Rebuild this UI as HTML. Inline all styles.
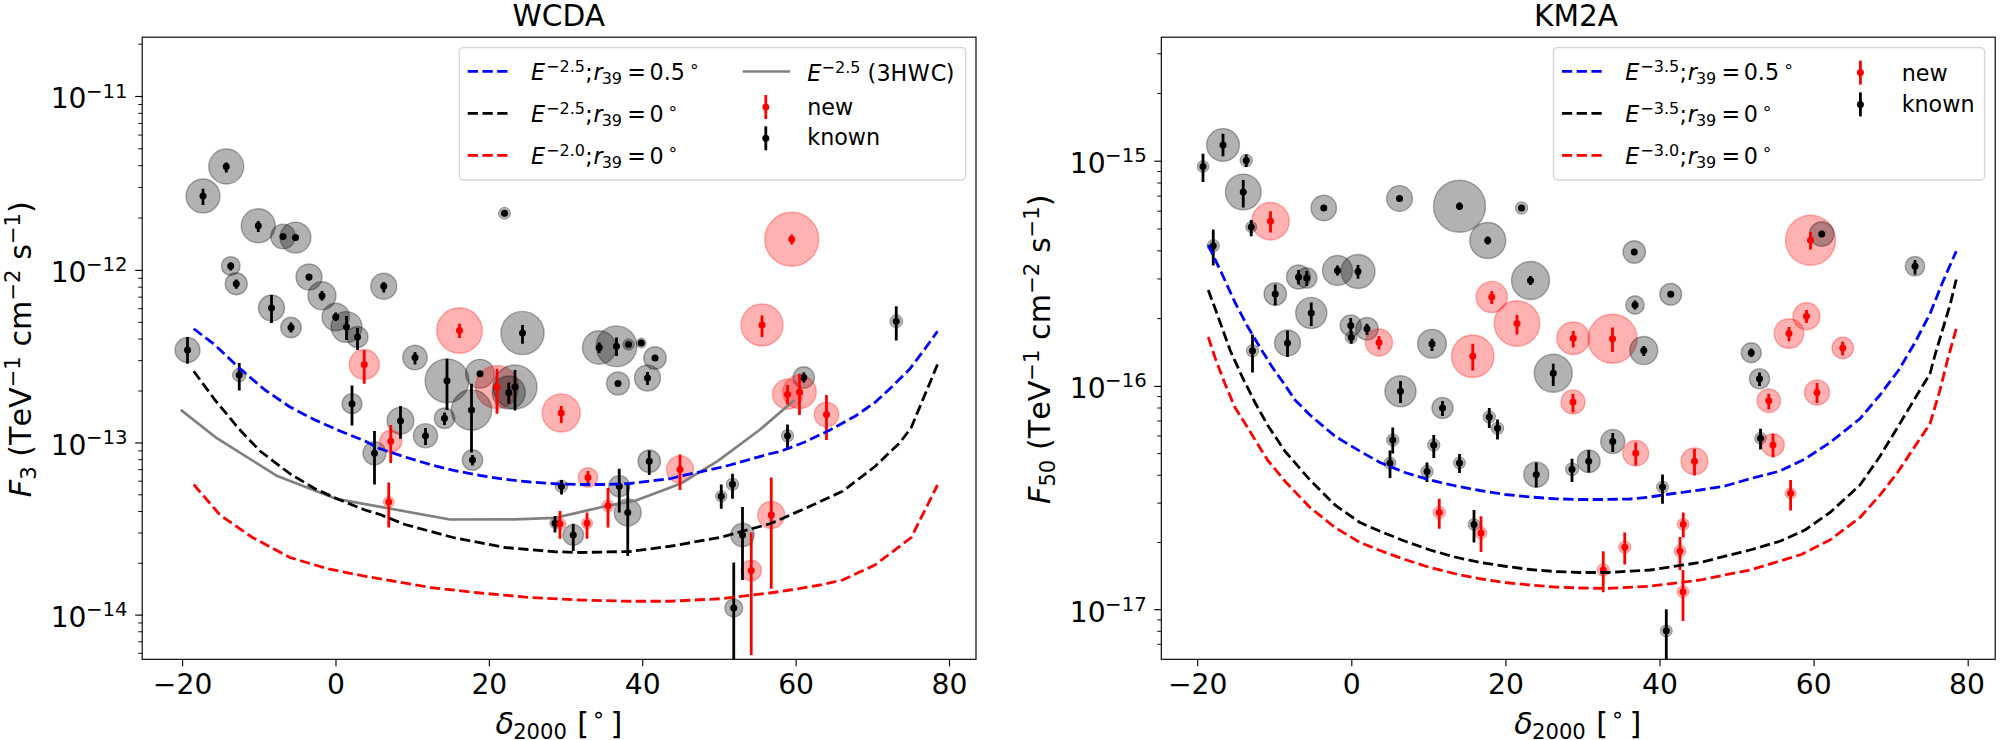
<!DOCTYPE html>
<html><head><meta charset="utf-8"><title>WCDA / KM2A</title>
<style>html,body{margin:0;padding:0;background:#fff}svg{display:block}text{font-family:"DejaVu Sans","Liberation Sans",sans-serif;fill:#000}text{font-kerning:none;font-variant-ligatures:none}.i{font-style:italic}</style></head><body>
<svg width="2000" height="740" viewBox="0 0 2000 740">
<rect x="0" y="0" width="2000" height="740" fill="#fff"/>
<g>
<defs>
<clipPath id="cl"><rect x="142.2" y="37.2" width="833.8" height="622.1"/></clipPath>
<clipPath id="cr"><rect x="1161.3" y="37.2" width="833.9" height="622.1"/></clipPath>
</defs>
<g clip-path="url(#cl)">
<circle cx="226.25" cy="166.5" r="17.5" fill="#000" fill-opacity="0.3" stroke="#000" stroke-opacity="0.3" stroke-width="1.4"/>
<circle cx="203" cy="196" r="17" fill="#000" fill-opacity="0.3" stroke="#000" stroke-opacity="0.3" stroke-width="1.4"/>
<circle cx="258.25" cy="225.75" r="17" fill="#000" fill-opacity="0.3" stroke="#000" stroke-opacity="0.3" stroke-width="1.4"/>
<circle cx="283" cy="236.5" r="12.25" fill="#000" fill-opacity="0.3" stroke="#000" stroke-opacity="0.3" stroke-width="1.4"/>
<circle cx="295.5" cy="237.5" r="15.4" fill="#000" fill-opacity="0.3" stroke="#000" stroke-opacity="0.3" stroke-width="1.4"/>
<circle cx="230.75" cy="266" r="9.4" fill="#000" fill-opacity="0.3" stroke="#000" stroke-opacity="0.3" stroke-width="1.4"/>
<circle cx="236.25" cy="283.75" r="11" fill="#000" fill-opacity="0.3" stroke="#000" stroke-opacity="0.3" stroke-width="1.4"/>
<circle cx="309" cy="277" r="13" fill="#000" fill-opacity="0.3" stroke="#000" stroke-opacity="0.3" stroke-width="1.4"/>
<circle cx="322" cy="295.75" r="14" fill="#000" fill-opacity="0.3" stroke="#000" stroke-opacity="0.3" stroke-width="1.4"/>
<circle cx="383.75" cy="286.25" r="13" fill="#000" fill-opacity="0.3" stroke="#000" stroke-opacity="0.3" stroke-width="1.4"/>
<circle cx="271.5" cy="308" r="13" fill="#000" fill-opacity="0.3" stroke="#000" stroke-opacity="0.3" stroke-width="1.4"/>
<circle cx="291" cy="327.5" r="10.3" fill="#000" fill-opacity="0.3" stroke="#000" stroke-opacity="0.3" stroke-width="1.4"/>
<circle cx="335.75" cy="317" r="13.75" fill="#000" fill-opacity="0.3" stroke="#000" stroke-opacity="0.3" stroke-width="1.4"/>
<circle cx="346.5" cy="327" r="15.4" fill="#000" fill-opacity="0.3" stroke="#000" stroke-opacity="0.3" stroke-width="1.4"/>
<circle cx="357.5" cy="337" r="10.5" fill="#000" fill-opacity="0.3" stroke="#000" stroke-opacity="0.3" stroke-width="1.4"/>
<circle cx="364.25" cy="364.5" r="15" fill="#f00" fill-opacity="0.3" stroke="#f00" stroke-opacity="0.3" stroke-width="1.4"/>
<circle cx="187.5" cy="350" r="12.5" fill="#000" fill-opacity="0.3" stroke="#000" stroke-opacity="0.3" stroke-width="1.4"/>
<circle cx="239.25" cy="375" r="6.9" fill="#000" fill-opacity="0.3" stroke="#000" stroke-opacity="0.3" stroke-width="1.0"/>
<circle cx="352" cy="403.75" r="10" fill="#000" fill-opacity="0.3" stroke="#000" stroke-opacity="0.3" stroke-width="1.4"/>
<circle cx="374.5" cy="453.25" r="11.5" fill="#000" fill-opacity="0.3" stroke="#000" stroke-opacity="0.3" stroke-width="1.4"/>
<circle cx="504.5" cy="213.25" r="6" fill="#000" fill-opacity="0.3" stroke="#000" stroke-opacity="0.3" stroke-width="1.0"/>
<circle cx="459.5" cy="330.5" r="22.75" fill="#f00" fill-opacity="0.3" stroke="#f00" stroke-opacity="0.3" stroke-width="1.4"/>
<circle cx="522.5" cy="333" r="21.6" fill="#000" fill-opacity="0.3" stroke="#000" stroke-opacity="0.3" stroke-width="1.4"/>
<circle cx="415" cy="357.5" r="12.25" fill="#000" fill-opacity="0.3" stroke="#000" stroke-opacity="0.3" stroke-width="1.4"/>
<circle cx="599.25" cy="347.5" r="16.8" fill="#000" fill-opacity="0.3" stroke="#000" stroke-opacity="0.3" stroke-width="1.4"/>
<circle cx="616.5" cy="346.25" r="20.4" fill="#000" fill-opacity="0.3" stroke="#000" stroke-opacity="0.3" stroke-width="1.4"/>
<circle cx="628.5" cy="344.5" r="5.75" fill="#000" fill-opacity="0.3" stroke="#000" stroke-opacity="0.3" stroke-width="1.0"/>
<circle cx="447" cy="380.75" r="21.9" fill="#000" fill-opacity="0.3" stroke="#000" stroke-opacity="0.3" stroke-width="1.4"/>
<circle cx="480" cy="373.75" r="14.4" fill="#000" fill-opacity="0.3" stroke="#000" stroke-opacity="0.3" stroke-width="1.4"/>
<circle cx="497" cy="387" r="21.5" fill="#f00" fill-opacity="0.3" stroke="#f00" stroke-opacity="0.3" stroke-width="1.4"/>
<circle cx="508.75" cy="392.5" r="16.5" fill="#000" fill-opacity="0.3" stroke="#000" stroke-opacity="0.3" stroke-width="1.4"/>
<circle cx="515" cy="387" r="22" fill="#000" fill-opacity="0.3" stroke="#000" stroke-opacity="0.3" stroke-width="1.4"/>
<circle cx="471.5" cy="410" r="20.2" fill="#000" fill-opacity="0.3" stroke="#000" stroke-opacity="0.3" stroke-width="1.4"/>
<circle cx="472.5" cy="460" r="10.25" fill="#000" fill-opacity="0.3" stroke="#000" stroke-opacity="0.3" stroke-width="1.4"/>
<circle cx="444.5" cy="418.25" r="10.25" fill="#000" fill-opacity="0.3" stroke="#000" stroke-opacity="0.3" stroke-width="1.4"/>
<circle cx="400.5" cy="420.75" r="13.4" fill="#000" fill-opacity="0.3" stroke="#000" stroke-opacity="0.3" stroke-width="1.4"/>
<circle cx="425.5" cy="435.75" r="12.1" fill="#000" fill-opacity="0.3" stroke="#000" stroke-opacity="0.3" stroke-width="1.4"/>
<circle cx="390.75" cy="441.25" r="11" fill="#f00" fill-opacity="0.3" stroke="#f00" stroke-opacity="0.3" stroke-width="1.4"/>
<circle cx="561.25" cy="413" r="19" fill="#f00" fill-opacity="0.3" stroke="#f00" stroke-opacity="0.3" stroke-width="1.4"/>
<circle cx="618" cy="383.5" r="11.5" fill="#000" fill-opacity="0.3" stroke="#000" stroke-opacity="0.3" stroke-width="1.4"/>
<circle cx="588" cy="477.5" r="9.75" fill="#f00" fill-opacity="0.3" stroke="#f00" stroke-opacity="0.3" stroke-width="1.4"/>
<circle cx="561.5" cy="486.25" r="6.25" fill="#000" fill-opacity="0.3" stroke="#000" stroke-opacity="0.3" stroke-width="1.0"/>
<circle cx="619.25" cy="486.25" r="10.6" fill="#000" fill-opacity="0.3" stroke="#000" stroke-opacity="0.3" stroke-width="1.4"/>
<circle cx="388.75" cy="502" r="5.5" fill="#f00" fill-opacity="0.3" stroke="#f00" stroke-opacity="0.3" stroke-width="1.0"/>
<circle cx="555" cy="523.25" r="5.25" fill="#000" fill-opacity="0.3" stroke="#000" stroke-opacity="0.3" stroke-width="1.0"/>
<circle cx="560" cy="523.75" r="6" fill="#f00" fill-opacity="0.3" stroke="#f00" stroke-opacity="0.3" stroke-width="1.0"/>
<circle cx="573.25" cy="535" r="10.4" fill="#000" fill-opacity="0.3" stroke="#000" stroke-opacity="0.3" stroke-width="1.4"/>
<circle cx="587" cy="523.25" r="5.6" fill="#f00" fill-opacity="0.3" stroke="#f00" stroke-opacity="0.3" stroke-width="1.0"/>
<circle cx="608" cy="505.75" r="6" fill="#f00" fill-opacity="0.3" stroke="#f00" stroke-opacity="0.3" stroke-width="1.0"/>
<circle cx="627.75" cy="512.5" r="13.5" fill="#000" fill-opacity="0.3" stroke="#000" stroke-opacity="0.3" stroke-width="1.4"/>
<circle cx="641.25" cy="343" r="5" fill="#000" fill-opacity="0.3" stroke="#000" stroke-opacity="0.3" stroke-width="1.0"/>
<circle cx="655" cy="358" r="11.25" fill="#000" fill-opacity="0.3" stroke="#000" stroke-opacity="0.3" stroke-width="1.4"/>
<circle cx="647.5" cy="378" r="13" fill="#000" fill-opacity="0.3" stroke="#000" stroke-opacity="0.3" stroke-width="1.4"/>
<circle cx="762" cy="325" r="21" fill="#f00" fill-opacity="0.3" stroke="#f00" stroke-opacity="0.3" stroke-width="1.4"/>
<circle cx="791.75" cy="239.25" r="27" fill="#f00" fill-opacity="0.3" stroke="#f00" stroke-opacity="0.3" stroke-width="1.4"/>
<circle cx="803.75" cy="377.5" r="10.7" fill="#000" fill-opacity="0.3" stroke="#000" stroke-opacity="0.3" stroke-width="1.4"/>
<circle cx="787.5" cy="394.25" r="15" fill="#f00" fill-opacity="0.3" stroke="#f00" stroke-opacity="0.3" stroke-width="1.4"/>
<circle cx="799.5" cy="392" r="16.75" fill="#f00" fill-opacity="0.3" stroke="#f00" stroke-opacity="0.3" stroke-width="1.4"/>
<circle cx="826.5" cy="414.5" r="12.25" fill="#f00" fill-opacity="0.3" stroke="#f00" stroke-opacity="0.3" stroke-width="1.4"/>
<circle cx="787.5" cy="435.75" r="6.25" fill="#000" fill-opacity="0.3" stroke="#000" stroke-opacity="0.3" stroke-width="1.0"/>
<circle cx="649.25" cy="461.25" r="11.25" fill="#000" fill-opacity="0.3" stroke="#000" stroke-opacity="0.3" stroke-width="1.4"/>
<circle cx="680" cy="469.5" r="13.5" fill="#f00" fill-opacity="0.3" stroke="#f00" stroke-opacity="0.3" stroke-width="1.4"/>
<circle cx="732.5" cy="484.25" r="6.25" fill="#000" fill-opacity="0.3" stroke="#000" stroke-opacity="0.3" stroke-width="1.0"/>
<circle cx="721.25" cy="496.25" r="5.75" fill="#000" fill-opacity="0.3" stroke="#000" stroke-opacity="0.3" stroke-width="1.0"/>
<circle cx="742.5" cy="535" r="11.75" fill="#000" fill-opacity="0.3" stroke="#000" stroke-opacity="0.3" stroke-width="1.4"/>
<circle cx="771.25" cy="515" r="13.5" fill="#f00" fill-opacity="0.3" stroke="#f00" stroke-opacity="0.3" stroke-width="1.4"/>
<circle cx="751.25" cy="570.5" r="10.25" fill="#f00" fill-opacity="0.3" stroke="#f00" stroke-opacity="0.3" stroke-width="1.4"/>
<circle cx="733.75" cy="608" r="9" fill="#000" fill-opacity="0.3" stroke="#000" stroke-opacity="0.3" stroke-width="1.4"/>
<circle cx="896.25" cy="321.25" r="6.5" fill="#000" fill-opacity="0.3" stroke="#000" stroke-opacity="0.3" stroke-width="1.0"/>
</g>
<polyline points="180.8,409.9 216.8,438.2 277.3,476.1 336,498.8 450,519.5 515,519.3 555,517.8 572.5,513.9 605,506.3 636.5,500.3 681,483.4 717.6,461.1 759.5,430 794.5,400" fill="none" stroke="#808080" stroke-width="2.7" stroke-linejoin="round"/>
<g clip-path="url(#cl)">
<line x1="226.25" y1="162.5" x2="226.25" y2="172.5" stroke="#000" stroke-width="2.8"/>
<circle cx="226.25" cy="166.5" r="3.5" fill="#000"/>
<line x1="203" y1="188.75" x2="203" y2="205" stroke="#000" stroke-width="2.8"/>
<circle cx="203" cy="196" r="3.5" fill="#000"/>
<line x1="258.25" y1="221" x2="258.25" y2="232" stroke="#000" stroke-width="2.8"/>
<circle cx="258.25" cy="225.75" r="3.5" fill="#000"/>
<circle cx="283" cy="236.5" r="3.5" fill="#000"/>
<circle cx="295.5" cy="237.5" r="3.5" fill="#000"/>
<line x1="230.75" y1="262.5" x2="230.75" y2="270.5" stroke="#000" stroke-width="2.8"/>
<circle cx="230.75" cy="266" r="3.5" fill="#000"/>
<line x1="236.25" y1="279.5" x2="236.25" y2="288.75" stroke="#000" stroke-width="2.8"/>
<circle cx="236.25" cy="283.75" r="3.5" fill="#000"/>
<line x1="309" y1="274" x2="309" y2="280.5" stroke="#000" stroke-width="2.8"/>
<circle cx="309" cy="277" r="3.5" fill="#000"/>
<line x1="322" y1="291" x2="322" y2="300.5" stroke="#000" stroke-width="2.8"/>
<circle cx="322" cy="295.75" r="3.5" fill="#000"/>
<line x1="383.75" y1="282" x2="383.75" y2="292.5" stroke="#000" stroke-width="2.8"/>
<circle cx="383.75" cy="286.25" r="3.5" fill="#000"/>
<line x1="271.5" y1="295" x2="271.5" y2="323" stroke="#000" stroke-width="2.8"/>
<circle cx="271.5" cy="308" r="3.5" fill="#000"/>
<line x1="291" y1="322.5" x2="291" y2="332.5" stroke="#000" stroke-width="2.8"/>
<circle cx="291" cy="327.5" r="3.5" fill="#000"/>
<line x1="335.75" y1="312.5" x2="335.75" y2="321" stroke="#000" stroke-width="2.8"/>
<circle cx="335.75" cy="317" r="3.5" fill="#000"/>
<line x1="346.5" y1="316" x2="346.5" y2="340" stroke="#000" stroke-width="2.8"/>
<circle cx="346.5" cy="327" r="3.5" fill="#000"/>
<line x1="357.5" y1="328" x2="357.5" y2="350" stroke="#000" stroke-width="2.8"/>
<circle cx="357.5" cy="337" r="3.5" fill="#000"/>
<line x1="364.25" y1="350" x2="364.25" y2="383.75" stroke="#f00" stroke-width="2.8"/>
<circle cx="364.25" cy="364.5" r="3.5" fill="#f00"/>
<line x1="187.5" y1="337" x2="187.5" y2="363.75" stroke="#000" stroke-width="2.8"/>
<circle cx="187.5" cy="350" r="3.5" fill="#000"/>
<line x1="239.25" y1="363" x2="239.25" y2="390.5" stroke="#000" stroke-width="2.8"/>
<circle cx="239.25" cy="375" r="3.5" fill="#000"/>
<line x1="352" y1="385.5" x2="352" y2="425.5" stroke="#000" stroke-width="2.8"/>
<circle cx="352" cy="403.75" r="3.5" fill="#000"/>
<line x1="374.5" y1="431" x2="374.5" y2="484.5" stroke="#000" stroke-width="2.8"/>
<circle cx="374.5" cy="453.25" r="3.5" fill="#000"/>
<circle cx="504.5" cy="213.25" r="3.5" fill="#000"/>
<line x1="459.5" y1="323.75" x2="459.5" y2="338" stroke="#f00" stroke-width="2.8"/>
<circle cx="459.5" cy="330.5" r="3.5" fill="#f00"/>
<line x1="522.5" y1="325" x2="522.5" y2="343.75" stroke="#000" stroke-width="2.8"/>
<circle cx="522.5" cy="333" r="3.5" fill="#000"/>
<line x1="415" y1="352" x2="415" y2="364.5" stroke="#000" stroke-width="2.8"/>
<circle cx="415" cy="357.5" r="3.5" fill="#000"/>
<line x1="599.25" y1="342.5" x2="599.25" y2="353" stroke="#000" stroke-width="2.8"/>
<circle cx="599.25" cy="347.5" r="3.5" fill="#000"/>
<line x1="616.5" y1="337.5" x2="616.5" y2="356" stroke="#000" stroke-width="2.8"/>
<circle cx="616.5" cy="346.25" r="3.5" fill="#000"/>
<circle cx="628.5" cy="344.5" r="3.5" fill="#000"/>
<line x1="447" y1="358.75" x2="447" y2="410" stroke="#000" stroke-width="2.8"/>
<circle cx="447" cy="380.75" r="3.5" fill="#000"/>
<circle cx="480" cy="373.75" r="3.5" fill="#000"/>
<line x1="497" y1="368.75" x2="497" y2="413.75" stroke="#f00" stroke-width="2.8"/>
<circle cx="497" cy="387" r="3.5" fill="#f00"/>
<line x1="508.75" y1="382.5" x2="508.75" y2="403.75" stroke="#000" stroke-width="2.8"/>
<circle cx="508.75" cy="392.5" r="3.5" fill="#000"/>
<line x1="515" y1="370" x2="515" y2="410.5" stroke="#000" stroke-width="2.8"/>
<circle cx="515" cy="387" r="3.5" fill="#000"/>
<line x1="471.5" y1="383.75" x2="471.5" y2="452.5" stroke="#000" stroke-width="2.8"/>
<circle cx="471.5" cy="410" r="3.5" fill="#000"/>
<line x1="472.5" y1="455" x2="472.5" y2="465.5" stroke="#000" stroke-width="2.8"/>
<circle cx="472.5" cy="460" r="3.5" fill="#000"/>
<line x1="444.5" y1="412.5" x2="444.5" y2="425" stroke="#000" stroke-width="2.8"/>
<circle cx="444.5" cy="418.25" r="3.5" fill="#000"/>
<line x1="400.5" y1="406" x2="400.5" y2="438.75" stroke="#000" stroke-width="2.8"/>
<circle cx="400.5" cy="420.75" r="3.5" fill="#000"/>
<line x1="425.5" y1="428" x2="425.5" y2="445" stroke="#000" stroke-width="2.8"/>
<circle cx="425.5" cy="435.75" r="3.5" fill="#000"/>
<line x1="390.75" y1="425" x2="390.75" y2="463" stroke="#f00" stroke-width="2.8"/>
<circle cx="390.75" cy="441.25" r="3.5" fill="#f00"/>
<line x1="561.25" y1="406" x2="561.25" y2="423" stroke="#f00" stroke-width="2.8"/>
<circle cx="561.25" cy="413" r="3.5" fill="#f00"/>
<circle cx="618" cy="383.5" r="3.5" fill="#000"/>
<line x1="588" y1="471" x2="588" y2="484" stroke="#f00" stroke-width="2.8"/>
<circle cx="588" cy="477.5" r="3.5" fill="#f00"/>
<line x1="561.5" y1="480" x2="561.5" y2="494.5" stroke="#000" stroke-width="2.8"/>
<circle cx="561.5" cy="486.25" r="3.5" fill="#000"/>
<line x1="619.25" y1="468.75" x2="619.25" y2="512.5" stroke="#000" stroke-width="2.8"/>
<circle cx="619.25" cy="486.25" r="3.5" fill="#000"/>
<line x1="388.75" y1="482.5" x2="388.75" y2="527.5" stroke="#f00" stroke-width="2.8"/>
<circle cx="388.75" cy="502" r="3.5" fill="#f00"/>
<line x1="555" y1="516" x2="555" y2="532.5" stroke="#000" stroke-width="2.8"/>
<circle cx="555" cy="523.25" r="3.5" fill="#000"/>
<line x1="560" y1="511" x2="560" y2="538.75" stroke="#f00" stroke-width="2.8"/>
<circle cx="560" cy="523.75" r="3.5" fill="#f00"/>
<line x1="573.25" y1="523.75" x2="573.25" y2="551" stroke="#000" stroke-width="2.8"/>
<circle cx="573.25" cy="535" r="3.5" fill="#000"/>
<line x1="587" y1="512.5" x2="587" y2="538.75" stroke="#f00" stroke-width="2.8"/>
<circle cx="587" cy="523.25" r="3.5" fill="#f00"/>
<line x1="608" y1="488" x2="608" y2="527.5" stroke="#f00" stroke-width="2.8"/>
<circle cx="608" cy="505.75" r="3.5" fill="#f00"/>
<line x1="627.75" y1="483.75" x2="627.75" y2="556" stroke="#000" stroke-width="2.8"/>
<circle cx="627.75" cy="512.5" r="3.5" fill="#000"/>
<circle cx="641.25" cy="343" r="3.5" fill="#000"/>
<circle cx="655" cy="358" r="3.5" fill="#000"/>
<line x1="647.5" y1="372" x2="647.5" y2="385" stroke="#000" stroke-width="2.8"/>
<circle cx="647.5" cy="378" r="3.5" fill="#000"/>
<line x1="762" y1="315.5" x2="762" y2="337" stroke="#f00" stroke-width="2.8"/>
<circle cx="762" cy="325" r="3.5" fill="#f00"/>
<line x1="791.75" y1="234.5" x2="791.75" y2="244.5" stroke="#f00" stroke-width="2.8"/>
<circle cx="791.75" cy="239.25" r="3.5" fill="#f00"/>
<line x1="803.75" y1="372.5" x2="803.75" y2="382.5" stroke="#000" stroke-width="2.8"/>
<circle cx="803.75" cy="377.5" r="3.5" fill="#000"/>
<line x1="787.5" y1="385" x2="787.5" y2="404.5" stroke="#f00" stroke-width="2.8"/>
<circle cx="787.5" cy="394.25" r="3.5" fill="#f00"/>
<line x1="799.5" y1="373.75" x2="799.5" y2="415" stroke="#f00" stroke-width="2.8"/>
<circle cx="799.5" cy="392" r="3.5" fill="#f00"/>
<line x1="826.5" y1="395" x2="826.5" y2="440" stroke="#f00" stroke-width="2.8"/>
<circle cx="826.5" cy="414.5" r="3.5" fill="#f00"/>
<line x1="787.5" y1="424.5" x2="787.5" y2="448.75" stroke="#000" stroke-width="2.8"/>
<circle cx="787.5" cy="435.75" r="3.5" fill="#000"/>
<line x1="649.25" y1="450.5" x2="649.25" y2="475" stroke="#000" stroke-width="2.8"/>
<circle cx="649.25" cy="461.25" r="3.5" fill="#000"/>
<line x1="680" y1="454.5" x2="680" y2="490" stroke="#f00" stroke-width="2.8"/>
<circle cx="680" cy="469.5" r="3.5" fill="#f00"/>
<line x1="732.5" y1="473.75" x2="732.5" y2="498.75" stroke="#000" stroke-width="2.8"/>
<circle cx="732.5" cy="484.25" r="3.5" fill="#000"/>
<line x1="721.25" y1="484.5" x2="721.25" y2="508.75" stroke="#000" stroke-width="2.8"/>
<circle cx="721.25" cy="496.25" r="3.5" fill="#000"/>
<line x1="742.5" y1="507" x2="742.5" y2="580" stroke="#000" stroke-width="2.8"/>
<circle cx="742.5" cy="535" r="3.5" fill="#000"/>
<line x1="771.25" y1="477.5" x2="771.25" y2="588.75" stroke="#f00" stroke-width="2.8"/>
<circle cx="771.25" cy="515" r="3.5" fill="#f00"/>
<line x1="751.25" y1="532.5" x2="751.25" y2="655" stroke="#f00" stroke-width="2.8"/>
<circle cx="751.25" cy="570.5" r="3.5" fill="#f00"/>
<line x1="733.75" y1="562.5" x2="733.75" y2="659" stroke="#000" stroke-width="2.8"/>
<circle cx="733.75" cy="608" r="3.5" fill="#000"/>
<line x1="896.25" y1="306.25" x2="896.25" y2="340.5" stroke="#000" stroke-width="2.8"/>
<circle cx="896.25" cy="321.25" r="3.5" fill="#000"/>
</g>
<polyline points="193.75,328.75 215,345 240,368.75 265,390 290,407 315,420 340,431 365,441 380,448.75 405,457 430,464.5 455,470.75 480,475.5 505,479.25 530,482 555,483.75 580,484.5 605,484.5 630,483.5 670,478.75 680,476.25 720,467.5 730,465 770,453.75 780,451.5 805,442 830,430 855,416.25 875,402.5 892.5,386.25 910,368.75 925,348.75 937.5,331.25" fill="none" stroke="#00f" stroke-width="2.8" stroke-linejoin="round" stroke-dasharray="10.3 4.45"/>
<polyline points="193.75,371.25 215,400 240,430 260,451 290,473.75 315,488.75 340,500 365,510 380,514.5 405,524.5 455,538 505,547.5 555,551.75 580,552.5 630,551.5 670,546.25 720,537.5 770,523.75 780,519.5 810,506.25 842.5,491.25 875,466.5 900,442.5 911.25,427.5 937.5,364.5" fill="none" stroke="#000" stroke-width="2.8" stroke-linejoin="round" stroke-dasharray="10.3 4.45"/>
<polyline points="193.75,484.5 220,515 252.5,537.5 290,557.5 327.5,568.75 365,576.25 390,580.5 430,587.5 480,593 530,597.5 580,600 630,601.25 670,601.25 720,598.75 770,593 790,590 820,585 842.5,580 875,565 911.25,537.5 937.5,485" fill="none" stroke="#f00" stroke-width="2.8" stroke-linejoin="round" stroke-dasharray="10.3 4.45"/>
<g clip-path="url(#cr)">
<circle cx="1223" cy="145" r="16.4" fill="#000" fill-opacity="0.3" stroke="#000" stroke-opacity="0.3" stroke-width="1.4"/>
<circle cx="1203" cy="166.5" r="5.9" fill="#000" fill-opacity="0.3" stroke="#000" stroke-opacity="0.3" stroke-width="1.0"/>
<circle cx="1246.25" cy="160.5" r="6.25" fill="#000" fill-opacity="0.3" stroke="#000" stroke-opacity="0.3" stroke-width="1.0"/>
<circle cx="1243.25" cy="192" r="17.9" fill="#000" fill-opacity="0.3" stroke="#000" stroke-opacity="0.3" stroke-width="1.4"/>
<circle cx="1270.5" cy="221.25" r="18.75" fill="#f00" fill-opacity="0.3" stroke="#f00" stroke-opacity="0.3" stroke-width="1.4"/>
<circle cx="1251.25" cy="227" r="5.6" fill="#000" fill-opacity="0.3" stroke="#000" stroke-opacity="0.3" stroke-width="1.0"/>
<circle cx="1213.25" cy="245.75" r="6.25" fill="#000" fill-opacity="0.3" stroke="#000" stroke-opacity="0.3" stroke-width="1.0"/>
<circle cx="1323.75" cy="208" r="12.75" fill="#000" fill-opacity="0.3" stroke="#000" stroke-opacity="0.3" stroke-width="1.4"/>
<circle cx="1399.5" cy="198.5" r="12.9" fill="#000" fill-opacity="0.3" stroke="#000" stroke-opacity="0.3" stroke-width="1.4"/>
<circle cx="1298.5" cy="277" r="12" fill="#000" fill-opacity="0.3" stroke="#000" stroke-opacity="0.3" stroke-width="1.4"/>
<circle cx="1306.75" cy="278" r="10.2" fill="#000" fill-opacity="0.3" stroke="#000" stroke-opacity="0.3" stroke-width="1.4"/>
<circle cx="1337.5" cy="270.5" r="15" fill="#000" fill-opacity="0.3" stroke="#000" stroke-opacity="0.3" stroke-width="1.4"/>
<circle cx="1358" cy="271.5" r="17" fill="#000" fill-opacity="0.3" stroke="#000" stroke-opacity="0.3" stroke-width="1.4"/>
<circle cx="1275.25" cy="294" r="11.25" fill="#000" fill-opacity="0.3" stroke="#000" stroke-opacity="0.3" stroke-width="1.4"/>
<circle cx="1311.25" cy="313" r="15.6" fill="#000" fill-opacity="0.3" stroke="#000" stroke-opacity="0.3" stroke-width="1.4"/>
<circle cx="1287.5" cy="343" r="13" fill="#000" fill-opacity="0.3" stroke="#000" stroke-opacity="0.3" stroke-width="1.4"/>
<circle cx="1252.5" cy="350.75" r="6.25" fill="#000" fill-opacity="0.3" stroke="#000" stroke-opacity="0.3" stroke-width="1.0"/>
<circle cx="1350.75" cy="325.5" r="10.6" fill="#000" fill-opacity="0.3" stroke="#000" stroke-opacity="0.3" stroke-width="1.4"/>
<circle cx="1351.25" cy="337.5" r="6" fill="#000" fill-opacity="0.3" stroke="#000" stroke-opacity="0.3" stroke-width="1.0"/>
<circle cx="1367" cy="328.75" r="11.25" fill="#000" fill-opacity="0.3" stroke="#000" stroke-opacity="0.3" stroke-width="1.4"/>
<circle cx="1379" cy="342.5" r="13.5" fill="#f00" fill-opacity="0.3" stroke="#f00" stroke-opacity="0.3" stroke-width="1.4"/>
<circle cx="1400.5" cy="391.25" r="15.6" fill="#000" fill-opacity="0.3" stroke="#000" stroke-opacity="0.3" stroke-width="1.4"/>
<circle cx="1392.75" cy="440" r="6.25" fill="#000" fill-opacity="0.3" stroke="#000" stroke-opacity="0.3" stroke-width="1.0"/>
<circle cx="1390" cy="463" r="6" fill="#000" fill-opacity="0.3" stroke="#000" stroke-opacity="0.3" stroke-width="1.0"/>
<circle cx="1459.5" cy="206.25" r="26" fill="#000" fill-opacity="0.3" stroke="#000" stroke-opacity="0.3" stroke-width="1.4"/>
<circle cx="1521.5" cy="208" r="6.25" fill="#000" fill-opacity="0.3" stroke="#000" stroke-opacity="0.3" stroke-width="1.0"/>
<circle cx="1487.75" cy="240.5" r="18" fill="#000" fill-opacity="0.3" stroke="#000" stroke-opacity="0.3" stroke-width="1.4"/>
<circle cx="1530.5" cy="280.5" r="19" fill="#000" fill-opacity="0.3" stroke="#000" stroke-opacity="0.3" stroke-width="1.4"/>
<circle cx="1491.75" cy="297" r="15.6" fill="#f00" fill-opacity="0.3" stroke="#f00" stroke-opacity="0.3" stroke-width="1.4"/>
<circle cx="1517" cy="323.5" r="22.75" fill="#f00" fill-opacity="0.3" stroke="#f00" stroke-opacity="0.3" stroke-width="1.4"/>
<circle cx="1432" cy="343.75" r="14.4" fill="#000" fill-opacity="0.3" stroke="#000" stroke-opacity="0.3" stroke-width="1.4"/>
<circle cx="1472.75" cy="356.25" r="21.25" fill="#f00" fill-opacity="0.3" stroke="#f00" stroke-opacity="0.3" stroke-width="1.4"/>
<circle cx="1573.25" cy="338.25" r="16.4" fill="#f00" fill-opacity="0.3" stroke="#f00" stroke-opacity="0.3" stroke-width="1.4"/>
<circle cx="1612.5" cy="338.75" r="24.5" fill="#f00" fill-opacity="0.3" stroke="#f00" stroke-opacity="0.3" stroke-width="1.4"/>
<circle cx="1553.25" cy="373.25" r="19" fill="#000" fill-opacity="0.3" stroke="#000" stroke-opacity="0.3" stroke-width="1.4"/>
<circle cx="1573" cy="402" r="12" fill="#f00" fill-opacity="0.3" stroke="#f00" stroke-opacity="0.3" stroke-width="1.4"/>
<circle cx="1442.5" cy="408" r="10.6" fill="#000" fill-opacity="0.3" stroke="#000" stroke-opacity="0.3" stroke-width="1.4"/>
<circle cx="1489.25" cy="417" r="6.25" fill="#000" fill-opacity="0.3" stroke="#000" stroke-opacity="0.3" stroke-width="1.0"/>
<circle cx="1497.5" cy="428.25" r="6.25" fill="#000" fill-opacity="0.3" stroke="#000" stroke-opacity="0.3" stroke-width="1.0"/>
<circle cx="1433.75" cy="445" r="6.25" fill="#000" fill-opacity="0.3" stroke="#000" stroke-opacity="0.3" stroke-width="1.0"/>
<circle cx="1459.5" cy="463" r="6" fill="#000" fill-opacity="0.3" stroke="#000" stroke-opacity="0.3" stroke-width="1.0"/>
<circle cx="1427" cy="471.5" r="6.25" fill="#000" fill-opacity="0.3" stroke="#000" stroke-opacity="0.3" stroke-width="1.0"/>
<circle cx="1612.75" cy="441.5" r="12" fill="#000" fill-opacity="0.3" stroke="#000" stroke-opacity="0.3" stroke-width="1.4"/>
<circle cx="1588.75" cy="461.25" r="11.4" fill="#000" fill-opacity="0.3" stroke="#000" stroke-opacity="0.3" stroke-width="1.4"/>
<circle cx="1572" cy="469.25" r="6.6" fill="#000" fill-opacity="0.3" stroke="#000" stroke-opacity="0.3" stroke-width="1.0"/>
<circle cx="1536.25" cy="474.5" r="12.6" fill="#000" fill-opacity="0.3" stroke="#000" stroke-opacity="0.3" stroke-width="1.4"/>
<circle cx="1439.25" cy="512.5" r="6.25" fill="#f00" fill-opacity="0.3" stroke="#f00" stroke-opacity="0.3" stroke-width="1.0"/>
<circle cx="1474" cy="524.5" r="6" fill="#000" fill-opacity="0.3" stroke="#000" stroke-opacity="0.3" stroke-width="1.0"/>
<circle cx="1481" cy="533" r="6" fill="#f00" fill-opacity="0.3" stroke="#f00" stroke-opacity="0.3" stroke-width="1.0"/>
<circle cx="1603.25" cy="570" r="6.25" fill="#f00" fill-opacity="0.3" stroke="#f00" stroke-opacity="0.3" stroke-width="1.0"/>
<circle cx="1624.75" cy="547.25" r="6.25" fill="#f00" fill-opacity="0.3" stroke="#f00" stroke-opacity="0.3" stroke-width="1.0"/>
<circle cx="1634.25" cy="252" r="11.25" fill="#000" fill-opacity="0.3" stroke="#000" stroke-opacity="0.3" stroke-width="1.4"/>
<circle cx="1670.75" cy="294.25" r="10.9" fill="#000" fill-opacity="0.3" stroke="#000" stroke-opacity="0.3" stroke-width="1.4"/>
<circle cx="1635" cy="305" r="9.25" fill="#000" fill-opacity="0.3" stroke="#000" stroke-opacity="0.3" stroke-width="1.4"/>
<circle cx="1810.5" cy="240.25" r="25" fill="#f00" fill-opacity="0.3" stroke="#f00" stroke-opacity="0.3" stroke-width="1.4"/>
<circle cx="1821.75" cy="234" r="12.25" fill="#000" fill-opacity="0.3" stroke="#000" stroke-opacity="0.3" stroke-width="1.4"/>
<circle cx="1806.5" cy="316.25" r="13.5" fill="#f00" fill-opacity="0.3" stroke="#f00" stroke-opacity="0.3" stroke-width="1.4"/>
<circle cx="1789" cy="333.5" r="14.75" fill="#f00" fill-opacity="0.3" stroke="#f00" stroke-opacity="0.3" stroke-width="1.4"/>
<circle cx="1842.75" cy="348" r="10.75" fill="#f00" fill-opacity="0.3" stroke="#f00" stroke-opacity="0.3" stroke-width="1.4"/>
<circle cx="1643.75" cy="350.5" r="14" fill="#000" fill-opacity="0.3" stroke="#000" stroke-opacity="0.3" stroke-width="1.4"/>
<circle cx="1751.25" cy="352.75" r="10" fill="#000" fill-opacity="0.3" stroke="#000" stroke-opacity="0.3" stroke-width="1.4"/>
<circle cx="1759.5" cy="378.75" r="10.1" fill="#000" fill-opacity="0.3" stroke="#000" stroke-opacity="0.3" stroke-width="1.4"/>
<circle cx="1768.75" cy="400.75" r="11.75" fill="#f00" fill-opacity="0.3" stroke="#f00" stroke-opacity="0.3" stroke-width="1.4"/>
<circle cx="1817" cy="392.5" r="12.5" fill="#f00" fill-opacity="0.3" stroke="#f00" stroke-opacity="0.3" stroke-width="1.4"/>
<circle cx="1635.75" cy="453.25" r="12.9" fill="#f00" fill-opacity="0.3" stroke="#f00" stroke-opacity="0.3" stroke-width="1.4"/>
<circle cx="1694.5" cy="461.25" r="13.4" fill="#f00" fill-opacity="0.3" stroke="#f00" stroke-opacity="0.3" stroke-width="1.4"/>
<circle cx="1760.5" cy="438.25" r="5.9" fill="#000" fill-opacity="0.3" stroke="#000" stroke-opacity="0.3" stroke-width="1.0"/>
<circle cx="1773" cy="445" r="11.25" fill="#f00" fill-opacity="0.3" stroke="#f00" stroke-opacity="0.3" stroke-width="1.4"/>
<circle cx="1662.5" cy="487" r="6" fill="#000" fill-opacity="0.3" stroke="#000" stroke-opacity="0.3" stroke-width="1.0"/>
<circle cx="1790.6" cy="493.25" r="5.6" fill="#f00" fill-opacity="0.3" stroke="#f00" stroke-opacity="0.3" stroke-width="1.0"/>
<circle cx="1683.25" cy="524.25" r="6" fill="#f00" fill-opacity="0.3" stroke="#f00" stroke-opacity="0.3" stroke-width="1.0"/>
<circle cx="1680" cy="551.25" r="6" fill="#f00" fill-opacity="0.3" stroke="#f00" stroke-opacity="0.3" stroke-width="1.0"/>
<circle cx="1683" cy="591.75" r="6" fill="#f00" fill-opacity="0.3" stroke="#f00" stroke-opacity="0.3" stroke-width="1.0"/>
<circle cx="1666.3" cy="630.8" r="6" fill="#000" fill-opacity="0.3" stroke="#000" stroke-opacity="0.3" stroke-width="1.0"/>
<circle cx="1915" cy="266.25" r="9.75" fill="#000" fill-opacity="0.3" stroke="#000" stroke-opacity="0.3" stroke-width="1.4"/>
</g>
<g clip-path="url(#cr)">
<line x1="1223" y1="133.75" x2="1223" y2="156.25" stroke="#000" stroke-width="2.8"/>
<circle cx="1223" cy="145" r="3.5" fill="#000"/>
<line x1="1203" y1="153.75" x2="1203" y2="182" stroke="#000" stroke-width="2.8"/>
<circle cx="1203" cy="166.5" r="3.5" fill="#000"/>
<line x1="1246.25" y1="154.5" x2="1246.25" y2="167" stroke="#000" stroke-width="2.8"/>
<circle cx="1246.25" cy="160.5" r="3.5" fill="#000"/>
<line x1="1243.25" y1="180" x2="1243.25" y2="207.5" stroke="#000" stroke-width="2.8"/>
<circle cx="1243.25" cy="192" r="3.5" fill="#000"/>
<line x1="1270.5" y1="211.25" x2="1270.5" y2="232.5" stroke="#f00" stroke-width="2.8"/>
<circle cx="1270.5" cy="221.25" r="3.5" fill="#f00"/>
<line x1="1251.25" y1="220" x2="1251.25" y2="236.25" stroke="#000" stroke-width="2.8"/>
<circle cx="1251.25" cy="227" r="3.5" fill="#000"/>
<line x1="1213.25" y1="229.5" x2="1213.25" y2="265.5" stroke="#000" stroke-width="2.8"/>
<circle cx="1213.25" cy="245.75" r="3.5" fill="#000"/>
<circle cx="1323.75" cy="208" r="3.5" fill="#000"/>
<circle cx="1399.5" cy="198.5" r="3.5" fill="#000"/>
<line x1="1298.5" y1="270" x2="1298.5" y2="284.5" stroke="#000" stroke-width="2.8"/>
<circle cx="1298.5" cy="277" r="3.5" fill="#000"/>
<line x1="1306.75" y1="271" x2="1306.75" y2="286" stroke="#000" stroke-width="2.8"/>
<circle cx="1306.75" cy="278" r="3.5" fill="#000"/>
<line x1="1337.5" y1="265.5" x2="1337.5" y2="275.5" stroke="#000" stroke-width="2.8"/>
<circle cx="1337.5" cy="270.5" r="3.5" fill="#000"/>
<line x1="1358" y1="265" x2="1358" y2="278.75" stroke="#000" stroke-width="2.8"/>
<circle cx="1358" cy="271.5" r="3.5" fill="#000"/>
<line x1="1275.25" y1="284.5" x2="1275.25" y2="305.5" stroke="#000" stroke-width="2.8"/>
<circle cx="1275.25" cy="294" r="3.5" fill="#000"/>
<line x1="1311.25" y1="302.5" x2="1311.25" y2="326" stroke="#000" stroke-width="2.8"/>
<circle cx="1311.25" cy="313" r="3.5" fill="#000"/>
<line x1="1287.5" y1="330.5" x2="1287.5" y2="357" stroke="#000" stroke-width="2.8"/>
<circle cx="1287.5" cy="343" r="3.5" fill="#000"/>
<line x1="1252.5" y1="334.5" x2="1252.5" y2="372.5" stroke="#000" stroke-width="2.8"/>
<circle cx="1252.5" cy="350.75" r="3.5" fill="#000"/>
<line x1="1350.75" y1="318" x2="1350.75" y2="333" stroke="#000" stroke-width="2.8"/>
<circle cx="1350.75" cy="325.5" r="3.5" fill="#000"/>
<line x1="1351.25" y1="331" x2="1351.25" y2="343.75" stroke="#000" stroke-width="2.8"/>
<circle cx="1351.25" cy="337.5" r="3.5" fill="#000"/>
<line x1="1367" y1="323.75" x2="1367" y2="335" stroke="#000" stroke-width="2.8"/>
<circle cx="1367" cy="328.75" r="3.5" fill="#000"/>
<line x1="1379" y1="336" x2="1379" y2="349.5" stroke="#f00" stroke-width="2.8"/>
<circle cx="1379" cy="342.5" r="3.5" fill="#f00"/>
<line x1="1400.5" y1="381" x2="1400.5" y2="403" stroke="#000" stroke-width="2.8"/>
<circle cx="1400.5" cy="391.25" r="3.5" fill="#000"/>
<line x1="1392.75" y1="427.5" x2="1392.75" y2="453.5" stroke="#000" stroke-width="2.8"/>
<circle cx="1392.75" cy="440" r="3.5" fill="#000"/>
<line x1="1390" y1="450.5" x2="1390" y2="478" stroke="#000" stroke-width="2.8"/>
<circle cx="1390" cy="463" r="3.5" fill="#000"/>
<line x1="1459.5" y1="202.5" x2="1459.5" y2="210" stroke="#000" stroke-width="2.8"/>
<circle cx="1459.5" cy="206.25" r="3.5" fill="#000"/>
<circle cx="1521.5" cy="208" r="3.5" fill="#000"/>
<line x1="1487.75" y1="236.5" x2="1487.75" y2="244.5" stroke="#000" stroke-width="2.8"/>
<circle cx="1487.75" cy="240.5" r="3.5" fill="#000"/>
<line x1="1530.5" y1="276" x2="1530.5" y2="285" stroke="#000" stroke-width="2.8"/>
<circle cx="1530.5" cy="280.5" r="3.5" fill="#000"/>
<line x1="1491.75" y1="291" x2="1491.75" y2="304" stroke="#f00" stroke-width="2.8"/>
<circle cx="1491.75" cy="297" r="3.5" fill="#f00"/>
<line x1="1517" y1="315" x2="1517" y2="334.5" stroke="#f00" stroke-width="2.8"/>
<circle cx="1517" cy="323.5" r="3.5" fill="#f00"/>
<line x1="1432" y1="338.75" x2="1432" y2="351" stroke="#000" stroke-width="2.8"/>
<circle cx="1432" cy="343.75" r="3.5" fill="#000"/>
<line x1="1472.75" y1="343.75" x2="1472.75" y2="370.5" stroke="#f00" stroke-width="2.8"/>
<circle cx="1472.75" cy="356.25" r="3.5" fill="#f00"/>
<line x1="1573.25" y1="331" x2="1573.25" y2="347.5" stroke="#f00" stroke-width="2.8"/>
<circle cx="1573.25" cy="338.25" r="3.5" fill="#f00"/>
<line x1="1612.5" y1="327.5" x2="1612.5" y2="352" stroke="#f00" stroke-width="2.8"/>
<circle cx="1612.5" cy="338.75" r="3.5" fill="#f00"/>
<line x1="1553.25" y1="363.75" x2="1553.25" y2="386" stroke="#000" stroke-width="2.8"/>
<circle cx="1553.25" cy="373.25" r="3.5" fill="#000"/>
<line x1="1573" y1="393.75" x2="1573" y2="412.5" stroke="#f00" stroke-width="2.8"/>
<circle cx="1573" cy="402" r="3.5" fill="#f00"/>
<line x1="1442.5" y1="401" x2="1442.5" y2="416" stroke="#000" stroke-width="2.8"/>
<circle cx="1442.5" cy="408" r="3.5" fill="#000"/>
<line x1="1489.25" y1="408" x2="1489.25" y2="428" stroke="#000" stroke-width="2.8"/>
<circle cx="1489.25" cy="417" r="3.5" fill="#000"/>
<line x1="1497.5" y1="419.5" x2="1497.5" y2="439.5" stroke="#000" stroke-width="2.8"/>
<circle cx="1497.5" cy="428.25" r="3.5" fill="#000"/>
<line x1="1433.75" y1="435" x2="1433.75" y2="458" stroke="#000" stroke-width="2.8"/>
<circle cx="1433.75" cy="445" r="3.5" fill="#000"/>
<line x1="1459.5" y1="454" x2="1459.5" y2="473" stroke="#000" stroke-width="2.8"/>
<circle cx="1459.5" cy="463" r="3.5" fill="#000"/>
<line x1="1427" y1="462.5" x2="1427" y2="482" stroke="#000" stroke-width="2.8"/>
<circle cx="1427" cy="471.5" r="3.5" fill="#000"/>
<line x1="1612.75" y1="433" x2="1612.75" y2="452" stroke="#000" stroke-width="2.8"/>
<circle cx="1612.75" cy="441.5" r="3.5" fill="#000"/>
<line x1="1588.75" y1="450.25" x2="1588.75" y2="472.5" stroke="#000" stroke-width="2.8"/>
<circle cx="1588.75" cy="461.25" r="3.5" fill="#000"/>
<line x1="1572" y1="458.75" x2="1572" y2="482" stroke="#000" stroke-width="2.8"/>
<circle cx="1572" cy="469.25" r="3.5" fill="#000"/>
<line x1="1536.25" y1="462.5" x2="1536.25" y2="487.5" stroke="#000" stroke-width="2.8"/>
<circle cx="1536.25" cy="474.5" r="3.5" fill="#000"/>
<line x1="1439.25" y1="498.75" x2="1439.25" y2="528.75" stroke="#f00" stroke-width="2.8"/>
<circle cx="1439.25" cy="512.5" r="3.5" fill="#f00"/>
<line x1="1474" y1="510" x2="1474" y2="542.5" stroke="#000" stroke-width="2.8"/>
<circle cx="1474" cy="524.5" r="3.5" fill="#000"/>
<line x1="1481" y1="516.25" x2="1481" y2="552" stroke="#f00" stroke-width="2.8"/>
<circle cx="1481" cy="533" r="3.5" fill="#f00"/>
<line x1="1603.25" y1="551.25" x2="1603.25" y2="592.25" stroke="#f00" stroke-width="2.8"/>
<circle cx="1603.25" cy="570" r="3.5" fill="#f00"/>
<line x1="1624.75" y1="532.5" x2="1624.75" y2="564.5" stroke="#f00" stroke-width="2.8"/>
<circle cx="1624.75" cy="547.25" r="3.5" fill="#f00"/>
<circle cx="1634.25" cy="252" r="3.5" fill="#000"/>
<circle cx="1670.75" cy="294.25" r="3.5" fill="#000"/>
<line x1="1635" y1="300.5" x2="1635" y2="309.5" stroke="#000" stroke-width="2.8"/>
<circle cx="1635" cy="305" r="3.5" fill="#000"/>
<line x1="1810.5" y1="232" x2="1810.5" y2="249.5" stroke="#f00" stroke-width="2.8"/>
<circle cx="1810.5" cy="240.25" r="3.5" fill="#f00"/>
<circle cx="1821.75" cy="234" r="3.5" fill="#000"/>
<line x1="1806.5" y1="310" x2="1806.5" y2="323" stroke="#f00" stroke-width="2.8"/>
<circle cx="1806.5" cy="316.25" r="3.5" fill="#f00"/>
<line x1="1789" y1="327" x2="1789" y2="341.25" stroke="#f00" stroke-width="2.8"/>
<circle cx="1789" cy="333.5" r="3.5" fill="#f00"/>
<line x1="1842.75" y1="341.5" x2="1842.75" y2="355.5" stroke="#f00" stroke-width="2.8"/>
<circle cx="1842.75" cy="348" r="3.5" fill="#f00"/>
<line x1="1643.75" y1="346" x2="1643.75" y2="356" stroke="#000" stroke-width="2.8"/>
<circle cx="1643.75" cy="350.5" r="3.5" fill="#000"/>
<line x1="1751.25" y1="348.5" x2="1751.25" y2="357" stroke="#000" stroke-width="2.8"/>
<circle cx="1751.25" cy="352.75" r="3.5" fill="#000"/>
<line x1="1759.5" y1="372.5" x2="1759.5" y2="386" stroke="#000" stroke-width="2.8"/>
<circle cx="1759.5" cy="378.75" r="3.5" fill="#000"/>
<line x1="1768.75" y1="393.75" x2="1768.75" y2="409.5" stroke="#f00" stroke-width="2.8"/>
<circle cx="1768.75" cy="400.75" r="3.5" fill="#f00"/>
<line x1="1817" y1="383" x2="1817" y2="403" stroke="#f00" stroke-width="2.8"/>
<circle cx="1817" cy="392.5" r="3.5" fill="#f00"/>
<line x1="1635.75" y1="442.5" x2="1635.75" y2="465.5" stroke="#f00" stroke-width="2.8"/>
<circle cx="1635.75" cy="453.25" r="3.5" fill="#f00"/>
<line x1="1694.5" y1="448.75" x2="1694.5" y2="475.5" stroke="#f00" stroke-width="2.8"/>
<circle cx="1694.5" cy="461.25" r="3.5" fill="#f00"/>
<line x1="1760.5" y1="428.75" x2="1760.5" y2="449.5" stroke="#000" stroke-width="2.8"/>
<circle cx="1760.5" cy="438.25" r="3.5" fill="#000"/>
<line x1="1773" y1="433.75" x2="1773" y2="457.5" stroke="#f00" stroke-width="2.8"/>
<circle cx="1773" cy="445" r="3.5" fill="#f00"/>
<line x1="1662.5" y1="474.5" x2="1662.5" y2="503.75" stroke="#000" stroke-width="2.8"/>
<circle cx="1662.5" cy="487" r="3.5" fill="#000"/>
<line x1="1790.6" y1="480" x2="1790.6" y2="510.5" stroke="#f00" stroke-width="2.8"/>
<circle cx="1790.6" cy="493.25" r="3.5" fill="#f00"/>
<line x1="1683.25" y1="512.5" x2="1683.25" y2="537.5" stroke="#f00" stroke-width="2.8"/>
<circle cx="1683.25" cy="524.25" r="3.5" fill="#f00"/>
<line x1="1680" y1="537" x2="1680" y2="570" stroke="#f00" stroke-width="2.8"/>
<circle cx="1680" cy="551.25" r="3.5" fill="#f00"/>
<line x1="1683" y1="570" x2="1683" y2="621" stroke="#f00" stroke-width="2.8"/>
<circle cx="1683" cy="591.75" r="3.5" fill="#f00"/>
<line x1="1666.3" y1="609.3" x2="1666.3" y2="659" stroke="#000" stroke-width="2.8"/>
<circle cx="1666.3" cy="630.8" r="3.5" fill="#000"/>
<line x1="1915" y1="260" x2="1915" y2="274.5" stroke="#000" stroke-width="2.8"/>
<circle cx="1915" cy="266.25" r="3.5" fill="#000"/>
</g>
<polyline points="1208.25,245 1222.5,275 1235,302.5 1247.5,326.25 1260,347.5 1272.5,367.5 1285,385 1295,400 1310,415 1335,436.25 1360,451.25 1380,462.5 1405,472.5 1430,480 1455,485.75 1480,490.5 1505,494.5 1530,497 1555,498.75 1580,499.5 1605,499.5 1630,499 1650,497 1662.5,495 1700,490 1725,486 1750,478.75 1780,471 1805,459 1830,442.5 1860,418.75 1880,395 1898.75,370 1915,342.5 1930,313.75 1942.5,282.5 1956.25,251.25" fill="none" stroke="#00f" stroke-width="2.8" stroke-linejoin="round" stroke-dasharray="10.3 4.45"/>
<polyline points="1208.25,290 1217.5,315 1230,350 1242.5,377.5 1255,402.5 1267.5,425 1285,451.25 1310,480 1335,505 1360,522.5 1380,531.25 1405,541.25 1430,550 1455,557 1480,562.5 1505,566.25 1530,569.5 1555,571.5 1580,572.5 1607.5,572.5 1650,570 1700,562.5 1750,550 1780,541.25 1805,530 1830,512.5 1860,485 1880,456.25 1897.5,427.5 1912.5,402.5 1930,373.75 1935,355 1942.5,330 1950,305 1956.25,279.5" fill="none" stroke="#000" stroke-width="2.8" stroke-linejoin="round" stroke-dasharray="10.3 4.45"/>
<polyline points="1208.25,337 1215,357.5 1225,383.75 1235,407.5 1247.5,427.5 1267.5,460 1285,481.25 1310,507.5 1335,527.5 1360,542.5 1380,550.5 1405,559.5 1430,567.5 1455,573.75 1480,578.75 1505,582.5 1530,585 1555,587 1580,588 1605,588.5 1650,586.25 1700,580 1750,570 1801.25,554.5 1830,540 1860,517.5 1880,495 1897.5,472.5 1912.5,450 1930,423.75 1940,390 1947.5,360 1956.25,328.75" fill="none" stroke="#f00" stroke-width="2.8" stroke-linejoin="round" stroke-dasharray="10.3 4.45"/>
<rect x="142.2" y="37.2" width="833.8" height="622.1" fill="none" stroke="#000" stroke-width="1.15"/>
<rect x="1161.3" y="37.2" width="833.9" height="622.1" fill="none" stroke="#000" stroke-width="1.15"/>
<line x1="182.6" y1="659.3" x2="182.6" y2="666.3" stroke="#000" stroke-width="1.15"/>
<text x="182.6" y="694.4" font-size="28.2" text-anchor="middle">−20</text>
<line x1="335.98" y1="659.3" x2="335.98" y2="666.3" stroke="#000" stroke-width="1.15"/>
<text x="335.98" y="694.4" font-size="28.2" text-anchor="middle">0</text>
<line x1="489.36" y1="659.3" x2="489.36" y2="666.3" stroke="#000" stroke-width="1.15"/>
<text x="489.36" y="694.4" font-size="28.2" text-anchor="middle">20</text>
<line x1="642.74" y1="659.3" x2="642.74" y2="666.3" stroke="#000" stroke-width="1.15"/>
<text x="642.74" y="694.4" font-size="28.2" text-anchor="middle">40</text>
<line x1="796.12" y1="659.3" x2="796.12" y2="666.3" stroke="#000" stroke-width="1.15"/>
<text x="796.12" y="694.4" font-size="28.2" text-anchor="middle">60</text>
<line x1="949.5" y1="659.3" x2="949.5" y2="666.3" stroke="#000" stroke-width="1.15"/>
<text x="949.5" y="694.4" font-size="28.2" text-anchor="middle">80</text>
<line x1="1197.7" y1="659.3" x2="1197.7" y2="666.3" stroke="#000" stroke-width="1.15"/>
<text x="1197.7" y="694.4" font-size="28.2" text-anchor="middle">−20</text>
<line x1="1351.8" y1="659.3" x2="1351.8" y2="666.3" stroke="#000" stroke-width="1.15"/>
<text x="1351.8" y="694.4" font-size="28.2" text-anchor="middle">0</text>
<line x1="1505.9" y1="659.3" x2="1505.9" y2="666.3" stroke="#000" stroke-width="1.15"/>
<text x="1505.9" y="694.4" font-size="28.2" text-anchor="middle">20</text>
<line x1="1660" y1="659.3" x2="1660" y2="666.3" stroke="#000" stroke-width="1.15"/>
<text x="1660" y="694.4" font-size="28.2" text-anchor="middle">40</text>
<line x1="1814.1" y1="659.3" x2="1814.1" y2="666.3" stroke="#000" stroke-width="1.15"/>
<text x="1813.8" y="694.4" font-size="28.2" text-anchor="middle">60</text>
<line x1="1968.2" y1="659.3" x2="1968.2" y2="666.3" stroke="#000" stroke-width="1.15"/>
<text x="1966.9" y="694.4" font-size="28.2" text-anchor="middle">80</text>
<line x1="138.2" y1="653.28" x2="142.2" y2="653.28" stroke="#000" stroke-width="0.95"/>
<line x1="138.2" y1="641.76" x2="142.2" y2="641.76" stroke="#000" stroke-width="0.95"/>
<line x1="138.2" y1="631.78" x2="142.2" y2="631.78" stroke="#000" stroke-width="0.95"/>
<line x1="138.2" y1="622.97" x2="142.2" y2="622.97" stroke="#000" stroke-width="0.95"/>
<line x1="135.2" y1="615.1" x2="142.2" y2="615.1" stroke="#000" stroke-width="1.15"/>
<text x="50.70" y="627.00" font-size="28.20">10</text>
<text x="86.01" y="616.10" font-size="19.74">−14</text>
<line x1="138.2" y1="563.29" x2="142.2" y2="563.29" stroke="#000" stroke-width="0.95"/>
<line x1="138.2" y1="532.99" x2="142.2" y2="532.99" stroke="#000" stroke-width="0.95"/>
<line x1="138.2" y1="511.49" x2="142.2" y2="511.49" stroke="#000" stroke-width="0.95"/>
<line x1="138.2" y1="494.81" x2="142.2" y2="494.81" stroke="#000" stroke-width="0.95"/>
<line x1="138.2" y1="481.18" x2="142.2" y2="481.18" stroke="#000" stroke-width="0.95"/>
<line x1="138.2" y1="469.66" x2="142.2" y2="469.66" stroke="#000" stroke-width="0.95"/>
<line x1="138.2" y1="459.68" x2="142.2" y2="459.68" stroke="#000" stroke-width="0.95"/>
<line x1="138.2" y1="450.87" x2="142.2" y2="450.87" stroke="#000" stroke-width="0.95"/>
<line x1="135.2" y1="443" x2="142.2" y2="443" stroke="#000" stroke-width="1.15"/>
<text x="50.70" y="454.90" font-size="28.20">10</text>
<text x="86.01" y="444.00" font-size="19.74">−13</text>
<line x1="138.2" y1="391.04" x2="142.2" y2="391.04" stroke="#000" stroke-width="0.95"/>
<line x1="138.2" y1="360.65" x2="142.2" y2="360.65" stroke="#000" stroke-width="0.95"/>
<line x1="138.2" y1="339.08" x2="142.2" y2="339.08" stroke="#000" stroke-width="0.95"/>
<line x1="138.2" y1="322.36" x2="142.2" y2="322.36" stroke="#000" stroke-width="0.95"/>
<line x1="138.2" y1="308.69" x2="142.2" y2="308.69" stroke="#000" stroke-width="0.95"/>
<line x1="138.2" y1="297.14" x2="142.2" y2="297.14" stroke="#000" stroke-width="0.95"/>
<line x1="138.2" y1="287.13" x2="142.2" y2="287.13" stroke="#000" stroke-width="0.95"/>
<line x1="138.2" y1="278.3" x2="142.2" y2="278.3" stroke="#000" stroke-width="0.95"/>
<line x1="135.2" y1="270.4" x2="142.2" y2="270.4" stroke="#000" stroke-width="1.15"/>
<text x="50.70" y="282.30" font-size="28.20">10</text>
<text x="86.01" y="271.40" font-size="19.74">−12</text>
<line x1="138.2" y1="218.05" x2="142.2" y2="218.05" stroke="#000" stroke-width="0.95"/>
<line x1="138.2" y1="187.43" x2="142.2" y2="187.43" stroke="#000" stroke-width="0.95"/>
<line x1="138.2" y1="165.7" x2="142.2" y2="165.7" stroke="#000" stroke-width="0.95"/>
<line x1="138.2" y1="148.85" x2="142.2" y2="148.85" stroke="#000" stroke-width="0.95"/>
<line x1="138.2" y1="135.08" x2="142.2" y2="135.08" stroke="#000" stroke-width="0.95"/>
<line x1="138.2" y1="123.44" x2="142.2" y2="123.44" stroke="#000" stroke-width="0.95"/>
<line x1="138.2" y1="113.35" x2="142.2" y2="113.35" stroke="#000" stroke-width="0.95"/>
<line x1="138.2" y1="104.46" x2="142.2" y2="104.46" stroke="#000" stroke-width="0.95"/>
<line x1="135.2" y1="96.5" x2="142.2" y2="96.5" stroke="#000" stroke-width="1.15"/>
<text x="50.70" y="108.40" font-size="28.20">10</text>
<text x="86.01" y="97.50" font-size="19.74">−11</text>
<line x1="138.2" y1="44.15" x2="142.2" y2="44.15" stroke="#000" stroke-width="0.95"/>
<line x1="1157.3" y1="644.29" x2="1161.3" y2="644.29" stroke="#000" stroke-width="0.95"/>
<line x1="1157.3" y1="631.34" x2="1161.3" y2="631.34" stroke="#000" stroke-width="0.95"/>
<line x1="1157.3" y1="619.92" x2="1161.3" y2="619.92" stroke="#000" stroke-width="0.95"/>
<line x1="1154.3" y1="609.7" x2="1161.3" y2="609.7" stroke="#000" stroke-width="1.15"/>
<text x="1069.80" y="621.60" font-size="28.20">10</text>
<text x="1105.11" y="610.70" font-size="19.74">−17</text>
<line x1="1157.3" y1="542.48" x2="1161.3" y2="542.48" stroke="#000" stroke-width="0.95"/>
<line x1="1157.3" y1="503.16" x2="1161.3" y2="503.16" stroke="#000" stroke-width="0.95"/>
<line x1="1157.3" y1="475.26" x2="1161.3" y2="475.26" stroke="#000" stroke-width="0.95"/>
<line x1="1157.3" y1="453.62" x2="1161.3" y2="453.62" stroke="#000" stroke-width="0.95"/>
<line x1="1157.3" y1="435.94" x2="1161.3" y2="435.94" stroke="#000" stroke-width="0.95"/>
<line x1="1157.3" y1="420.99" x2="1161.3" y2="420.99" stroke="#000" stroke-width="0.95"/>
<line x1="1157.3" y1="408.04" x2="1161.3" y2="408.04" stroke="#000" stroke-width="0.95"/>
<line x1="1157.3" y1="396.62" x2="1161.3" y2="396.62" stroke="#000" stroke-width="0.95"/>
<line x1="1154.3" y1="386.4" x2="1161.3" y2="386.4" stroke="#000" stroke-width="1.15"/>
<text x="1069.80" y="398.30" font-size="28.20">10</text>
<text x="1105.11" y="387.40" font-size="19.74">−16</text>
<line x1="1157.3" y1="318.61" x2="1161.3" y2="318.61" stroke="#000" stroke-width="0.95"/>
<line x1="1157.3" y1="278.95" x2="1161.3" y2="278.95" stroke="#000" stroke-width="0.95"/>
<line x1="1157.3" y1="250.82" x2="1161.3" y2="250.82" stroke="#000" stroke-width="0.95"/>
<line x1="1157.3" y1="228.99" x2="1161.3" y2="228.99" stroke="#000" stroke-width="0.95"/>
<line x1="1157.3" y1="211.16" x2="1161.3" y2="211.16" stroke="#000" stroke-width="0.95"/>
<line x1="1157.3" y1="196.08" x2="1161.3" y2="196.08" stroke="#000" stroke-width="0.95"/>
<line x1="1157.3" y1="183.02" x2="1161.3" y2="183.02" stroke="#000" stroke-width="0.95"/>
<line x1="1157.3" y1="171.5" x2="1161.3" y2="171.5" stroke="#000" stroke-width="0.95"/>
<line x1="1154.3" y1="161.2" x2="1161.3" y2="161.2" stroke="#000" stroke-width="1.15"/>
<text x="1069.80" y="173.10" font-size="28.20">10</text>
<text x="1105.11" y="162.20" font-size="19.74">−15</text>
<line x1="1157.3" y1="93.41" x2="1161.3" y2="93.41" stroke="#000" stroke-width="0.95"/>
<line x1="1157.3" y1="53.75" x2="1161.3" y2="53.75" stroke="#000" stroke-width="0.95"/>
<text x="512.5" y="25.6" font-size="29.6" style="font-kerning:normal">WCDA</text>
<text x="1534.0" y="25.6" font-size="29.6" style="font-kerning:normal">KM2A</text>
<text x="495.46" y="734.00" font-size="30.20" class="i">δ</text>
<text x="513.15" y="738.50" font-size="21.14">2000</text>
<text x="577.30" y="734.00" font-size="30.20">[</text>
<text x="591.80" y="721.75" font-size="21.74">∘</text>
<text x="610.57" y="734.00" font-size="30.20">]</text>
<text x="1514.36" y="734.00" font-size="30.20" class="i">δ</text>
<text x="1532.05" y="738.50" font-size="21.14">2000</text>
<text x="1596.20" y="734.00" font-size="30.20">[</text>
<text x="1610.70" y="721.75" font-size="21.74">∘</text>
<text x="1629.47" y="734.00" font-size="30.20">]</text>
<text transform="translate(31.0,349.2) rotate(-90)" font-size="30.2" text-anchor="middle" x="0" y="0"><tspan class="i">F</tspan><tspan font-size="21.14" dy="4.7">3</tspan><tspan dy="-4.7"> (TeV</tspan><tspan font-size="21.14" dy="-11">−1</tspan><tspan dy="11"> cm</tspan><tspan font-size="21.14" dy="-11">−2</tspan><tspan dy="11"> s</tspan><tspan font-size="21.14" dy="-11">−1</tspan><tspan dy="11">)</tspan></text>
<text transform="translate(1050.1,349.2) rotate(-90)" font-size="30.2" text-anchor="middle" x="0" y="0"><tspan class="i">F</tspan><tspan font-size="21.14" dy="4.7">50</tspan><tspan dy="-4.7"> (TeV</tspan><tspan font-size="21.14" dy="-11">−1</tspan><tspan dy="11"> cm</tspan><tspan font-size="21.14" dy="-11">−2</tspan><tspan dy="11"> s</tspan><tspan font-size="21.14" dy="-11">−1</tspan><tspan dy="11">)</tspan></text>
<rect x="459.3" y="47.6" width="506.4" height="132.4" rx="4" ry="4" fill="#fff" fill-opacity="0.8" stroke="#ccc" stroke-opacity="0.8" stroke-width="1.4"/>
<line x1="467.7" y1="71.4" x2="509" y2="71.4" stroke="#00f" stroke-width="2.8" stroke-dasharray="10.3 4.45"/>
<text x="531.00" y="79.75" font-size="22.22" class="i">E</text>
<text x="546.10" y="71.65" font-size="16.00">−2.5</text>
<text x="585.19" y="79.75" font-size="22.22">;</text>
<text x="593.52" y="79.75" font-size="22.22" class="i">r</text>
<text x="601.68" y="83.85" font-size="16.00">39</text>
<text x="627.35" y="79.75" font-size="22.22">=</text>
<text x="649.54" y="79.75" font-size="22.22">0.5</text>
<text x="688.98" y="71.51" font-size="17.00">∘</text>
<line x1="467.7" y1="113.4" x2="509" y2="113.4" stroke="#000" stroke-width="2.8" stroke-dasharray="10.3 4.45"/>
<text x="531.00" y="121.75" font-size="22.22" class="i">E</text>
<text x="546.10" y="113.65" font-size="16.00">−2.5</text>
<text x="585.19" y="121.75" font-size="22.22">;</text>
<text x="593.52" y="121.75" font-size="22.22" class="i">r</text>
<text x="601.68" y="125.85" font-size="16.00">39</text>
<text x="627.35" y="121.75" font-size="22.22">=</text>
<text x="649.54" y="121.75" font-size="22.22">0</text>
<text x="667.48" y="113.51" font-size="17.00">∘</text>
<line x1="467.7" y1="155.3" x2="509" y2="155.3" stroke="#f00" stroke-width="2.8" stroke-dasharray="10.3 4.45"/>
<text x="531.00" y="163.65" font-size="22.22" class="i">E</text>
<text x="546.10" y="155.55" font-size="16.00">−2.0</text>
<text x="585.19" y="163.65" font-size="22.22">;</text>
<text x="593.52" y="163.65" font-size="22.22" class="i">r</text>
<text x="601.68" y="167.75" font-size="16.00">39</text>
<text x="627.35" y="163.65" font-size="22.22">=</text>
<text x="649.54" y="163.65" font-size="22.22">0</text>
<text x="667.48" y="155.41" font-size="17.00">∘</text>
<line x1="742.7" y1="71.5" x2="790" y2="71.5" stroke="#808080" stroke-width="2.7"/>
<text x="807.30" y="81.20" font-size="22.22" class="i">E</text>
<text x="821.60" y="73.10" font-size="16.00">−2.5</text>
<text x="867.49 876.51 890.52 907.86 930.65 945.72" y="81.20" font-size="22.22">(3HWC)</text>
<line x1="765.8" y1="95" x2="765.8" y2="119" stroke="#f00" stroke-width="2.8"/>
<circle cx="765.8" cy="107" r="3.5" fill="#f00"/>
<line x1="765.8" y1="126.3" x2="765.8" y2="150.3" stroke="#000" stroke-width="2.8"/>
<circle cx="765.8" cy="138.3" r="3.5" fill="#000"/>
<text x="807.28" y="114.70" font-size="22.22">new</text>
<text x="807.28" y="145.20" font-size="22.22">known</text>
<rect x="1553.5" y="47.6" width="431.1" height="132.4" rx="4" ry="4" fill="#fff" fill-opacity="0.8" stroke="#ccc" stroke-opacity="0.8" stroke-width="1.4"/>
<line x1="1561.9" y1="71.4" x2="1603.2" y2="71.4" stroke="#00f" stroke-width="2.8" stroke-dasharray="10.3 4.45"/>
<text x="1625.20" y="79.75" font-size="22.22" class="i">E</text>
<text x="1640.30" y="71.65" font-size="16.00">−3.5</text>
<text x="1679.39" y="79.75" font-size="22.22">;</text>
<text x="1687.72" y="79.75" font-size="22.22" class="i">r</text>
<text x="1695.88" y="83.85" font-size="16.00">39</text>
<text x="1721.55" y="79.75" font-size="22.22">=</text>
<text x="1743.74" y="79.75" font-size="22.22">0.5</text>
<text x="1783.18" y="71.51" font-size="17.00">∘</text>
<line x1="1561.9" y1="113.4" x2="1603.2" y2="113.4" stroke="#000" stroke-width="2.8" stroke-dasharray="10.3 4.45"/>
<text x="1625.20" y="121.75" font-size="22.22" class="i">E</text>
<text x="1640.30" y="113.65" font-size="16.00">−3.5</text>
<text x="1679.39" y="121.75" font-size="22.22">;</text>
<text x="1687.72" y="121.75" font-size="22.22" class="i">r</text>
<text x="1695.88" y="125.85" font-size="16.00">39</text>
<text x="1721.55" y="121.75" font-size="22.22">=</text>
<text x="1743.74" y="121.75" font-size="22.22">0</text>
<text x="1761.68" y="113.51" font-size="17.00">∘</text>
<line x1="1561.9" y1="155.3" x2="1603.2" y2="155.3" stroke="#f00" stroke-width="2.8" stroke-dasharray="10.3 4.45"/>
<text x="1625.20" y="163.65" font-size="22.22" class="i">E</text>
<text x="1640.30" y="155.55" font-size="16.00">−3.0</text>
<text x="1679.39" y="163.65" font-size="22.22">;</text>
<text x="1687.72" y="163.65" font-size="22.22" class="i">r</text>
<text x="1695.88" y="167.75" font-size="16.00">39</text>
<text x="1721.55" y="163.65" font-size="22.22">=</text>
<text x="1743.74" y="163.65" font-size="22.22">0</text>
<text x="1761.68" y="155.41" font-size="17.00">∘</text>
<line x1="1860.4" y1="60.6" x2="1860.4" y2="84.6" stroke="#f00" stroke-width="2.8"/>
<circle cx="1860.4" cy="72.6" r="3.5" fill="#f00"/>
<line x1="1860.4" y1="92.4" x2="1860.4" y2="116.4" stroke="#000" stroke-width="2.8"/>
<circle cx="1860.4" cy="104.4" r="3.5" fill="#000"/>
<text x="1901.68" y="80.60" font-size="22.22">new</text>
<text x="1901.68" y="112.00" font-size="22.22">known</text>
</g>
</svg></body></html>
